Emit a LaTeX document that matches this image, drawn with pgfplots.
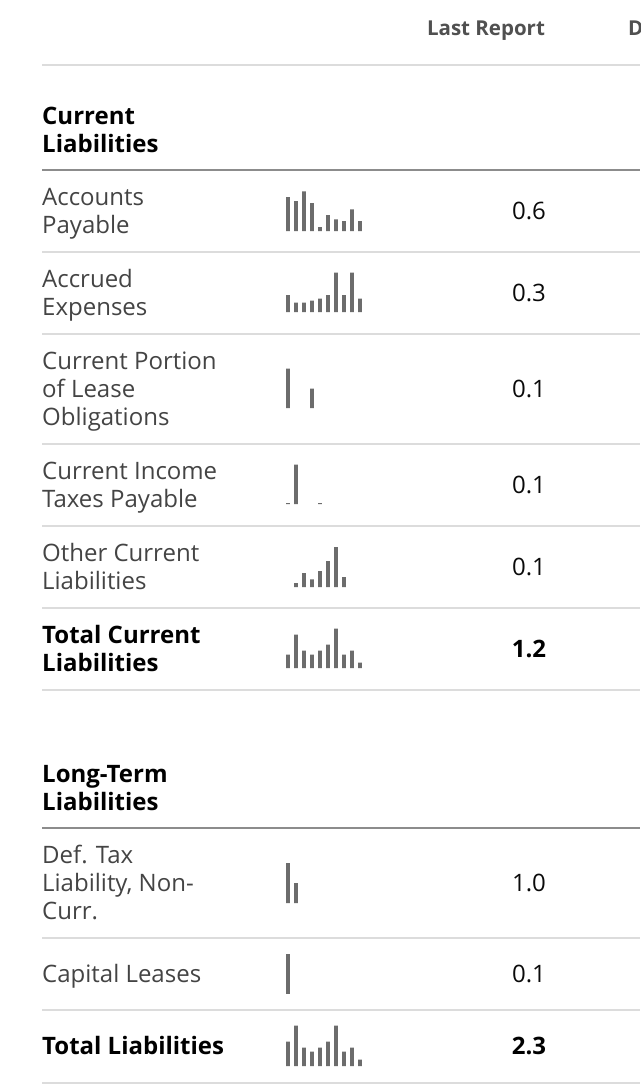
\documentclass[border=0pt]{standalone}
\usepackage{fontspec}
\setmainfont{Open Sans}
\usepackage{pgfplots}
\pgfplotsset{compat=1.18}

\definecolor{lbl}{HTML}{444444}
\definecolor{hdr}{HTML}{505050}
\definecolor{val}{HTML}{0A0A0A}
\definecolor{rule}{HTML}{DCDCDC}
\definecolor{ruledark}{HTML}{8C8C8C}
\definecolor{spark}{HTML}{6C6C6C}

\newcommand\rowfont{\fontsize{24}{28}\selectfont}
\newcommand\hdrfont{\fontsize{20.5}{24}\selectfont\bfseries}

% sparkline: baseline y, coordinates
\pgfplotsset{spark/.style={width=80pt, height=40pt, scale only axis, hide axis,
    xmin=-0.5, xmax=9.5, ymin=0, ymax=120, anchor=south west, clip=false}}
\newcommand\spark[2]{%
  \begin{axis}[spark, at={(284pt,-#1pt)}]
    \addplot[ybar, bar width=3.7pt, fill=spark, draw=none] coordinates {#2};
  \end{axis}}

\tikzset{lab/.style={anchor=base west, inner sep=0pt, text=lbl, font=\rowfont},
         labb/.style={anchor=base west, inner sep=0pt, text=black, font=\rowfont\bfseries},
         num/.style={anchor=base, inner sep=0pt, text=val, font=\rowfont},
         numb/.style={anchor=base, inner sep=0pt, text=black, font=\rowfont\bfseries}}

\begin{document}
\begin{tikzpicture}[x=1pt, y=-1pt]
\path[use as bounding box, fill=white] (0,0) rectangle (640,1092);

% column header (next column is cut off at the edge, as in the reference)
\node[anchor=base, inner sep=0pt, text=hdr, font=\hdrfont] at (486,35) {Last Report};
\node[anchor=base west, inner sep=0pt, text=hdr, font=\hdrfont] at (628,35) {D};

% rules
\foreach \y in {65,252,334,444,526,608,690,938,1010,1083}
  \draw[rule, line width=2pt] (42,\y) -- (640,\y);
\foreach \y in {170,828}
  \draw[ruledark, line width=2pt] (42,\y) -- (640,\y);

% section: current liabilities
\node[labb] at (42,124) {Current};
\node[labb] at (42,152) {Liabilities};

\node[lab] at (42,205) {Accounts};
\node[lab] at (42,233) {Payable};
\node[num] at (529,219) {0.6};

\node[lab] at (42,287) {Accrued};
\node[lab] at (42,315) {Expenses};
\node[num] at (529,301) {0.3};

\node[lab] at (42,369) {Current Portion};
\node[lab] at (42,397) {of Lease};
\node[lab] at (42,425) {Obligations};
\node[num] at (529,397) {0.1};

\node[lab] at (42,479) {Current Income};
\node[lab] at (42,507) {Taxes Payable};
\node[num] at (529,493) {0.1};

\node[lab] at (42,561) {Other Current};
\node[lab] at (42,589) {Liabilities};
\node[num] at (529,575) {0.1};

\node[labb] at (42,643) {Total Current};
\node[labb] at (42,671) {Liabilities};
\node[numb] at (529,657) {1.2};

% section: long-term liabilities
\node[labb] at (42,782) {Long-Term};
\node[labb] at (42,810) {Liabilities};

\node[lab] at (42,863) {Def. Tax};
\node[lab] at (42,891) {Liability, Non-};
\node[lab] at (42,919) {Curr.};
\node[num] at (529,891) {1.0};

\node[lab] at (42,982) {Capital Leases};
\node[num] at (529,982) {0.1};

\node[labb] at (42,1054) {Total Liabilities};
\node[numb] at (529,1054) {2.3};

% sparklines
\spark{231}{(0,102) (1,90) (2,119) (3,84) (4,12) (5,48) (6,35) (7,30) (8,65) (9,30)}
\spark{312}{(0,51) (1,28) (2,28) (3,34) (4,40) (5,51) (6,118) (7,51) (8,118) (9,40)}
\spark{408}{(0,118) (3,58)}
\spark{504}{(0,3) (1,118) (4,3)}
\spark{587}{(1,12) (2,42) (3,23) (4,48) (5,78) (6,120) (7,30)}
\spark{668}{(0,40) (1,100) (2,52) (3,40) (4,52) (5,70) (6,118) (7,40) (8,52) (9,16)}
\spark{903}{(0,120) (1,60)}
\spark{994}{(0,120)}
\spark{1066}{(0,73) (1,121) (2,55) (3,43) (4,55) (5,73) (6,121) (7,43) (8,55) (9,19)}
\end{tikzpicture}
\end{document}
